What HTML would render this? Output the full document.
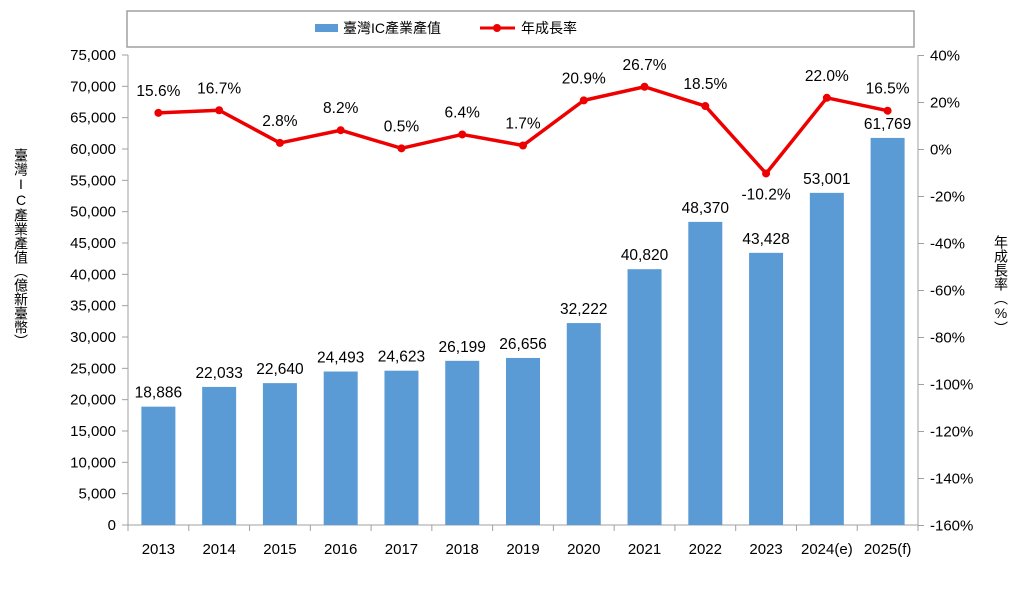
<!DOCTYPE html>
<html><head><meta charset="utf-8"><style>
body{margin:0;background:#fff;position:relative;}
text{font-family:"Liberation Sans","Noto Sans CJK TC",sans-serif;fill:#000;}
.vt{position:absolute;writing-mode:vertical-rl;text-orientation:upright;font-family:"Liberation Sans","Noto Sans CJK TC",sans-serif;font-size:14px;line-height:16px;color:#000;letter-spacing:0px;}
</style></head><body>
<svg width="1024" height="606" xmlns="http://www.w3.org/2000/svg">
<rect x="127" y="11" width="787" height="36" fill="#fff" stroke="#a0a0a0" stroke-width="1.5"/>
<rect x="315" y="24" width="23" height="8" fill="#5b9bd5"/>
<text x="343" y="33" font-size="14">臺灣IC產業產值</text>
<line x1="480" y1="28" x2="515" y2="28" stroke="#e00" stroke-width="3"/>
<circle cx="497" cy="28" r="4" fill="#e00"/>
<text x="521" y="33" font-size="14">年成長率</text>
<g stroke="#a0a0a0" stroke-width="1">
<line x1="128" y1="55" x2="128" y2="525"/>
<line x1="918" y1="55" x2="918" y2="525"/>
<line x1="128" y1="525" x2="918" y2="525"/>
</g>
<g id="g"></g>
<script>
var NS="http://www.w3.org/2000/svg",g=document.getElementById('g');
function el(t,a,txt){var e=document.createElementNS(NS,t);for(var k in a)e.setAttribute(k,a[k]);if(txt!=null)e.textContent=txt;g.appendChild(e);return e;}
var vals=[18886,22033,22640,24493,24623,26199,26656,32222,40820,48370,43428,53001,61769];
var gr=[15.6,16.7,2.8,8.2,0.5,6.4,1.7,20.9,26.7,18.5,-10.2,22.0,16.5];
var cats=["2013","2014","2015","2016","2017","2018","2019","2020","2021","2022","2023","2024(e)","2025(f)"];
var w=790/13;
function Y(v){return 525-v*470/75000;}
function R(p){return 149.5-p*2.35;}
for(var i=0;i<=15;i++){var y=525-i*470/15;
el('line',{x1:122,y1:y,x2:128,y2:y,stroke:'#a0a0a0'});
el('text',{x:116,y:y+5,'font-size':15,'text-anchor':'end'},(i*5000).toLocaleString('en-US'));}
for(var i=0;i<=10;i++){var p=40-i*20,y=R(p);
el('line',{x1:918,y1:y,x2:924,y2:y,stroke:'#a0a0a0'});
el('text',{x:930,y:y+5,'font-size':15},p+'%');}
for(var i=0;i<=13;i++)el('line',{x1:128+i*w,y1:525,x2:128+i*w,y2:531,stroke:'#a0a0a0'});
var pts=[];
for(var i=0;i<13;i++){var cx=128+w*(i+0.5);
el('rect',{x:cx-17,y:Y(vals[i]),width:34,height:525-Y(vals[i]),fill:'#5b9bd5'});
el('text',{x:cx,y:Y(vals[i])-9,'font-size':15.5,'text-anchor':'middle'},vals[i].toLocaleString('en-US'));
el('text',{x:cx,y:554,'font-size':15,'text-anchor':'middle'},cats[i]);
pts.push(cx+','+R(gr[i]));}
el('polyline',{points:pts.join(' '),fill:'none',stroke:'#e00','stroke-width':3.5,'stroke-linejoin':'round'});
for(var i=0;i<13;i++){var cx=128+w*(i+0.5);
el('circle',{cx:cx,cy:R(gr[i]),r:4,fill:'#e00'});
var ly=gr[i]<0?R(gr[i])+26:R(gr[i])-17;
el('text',{x:cx,y:ly,'font-size':15.5,'text-anchor':'middle'},gr[i].toFixed(1)+'%');}
</script>
</svg>
<div class="vt" style="left:13px;top:148px;">臺灣IC產業產值（億新臺幣）</div>
<div class="vt" style="left:993px;top:235px;">年成長率（%）</div>
</body></html>
